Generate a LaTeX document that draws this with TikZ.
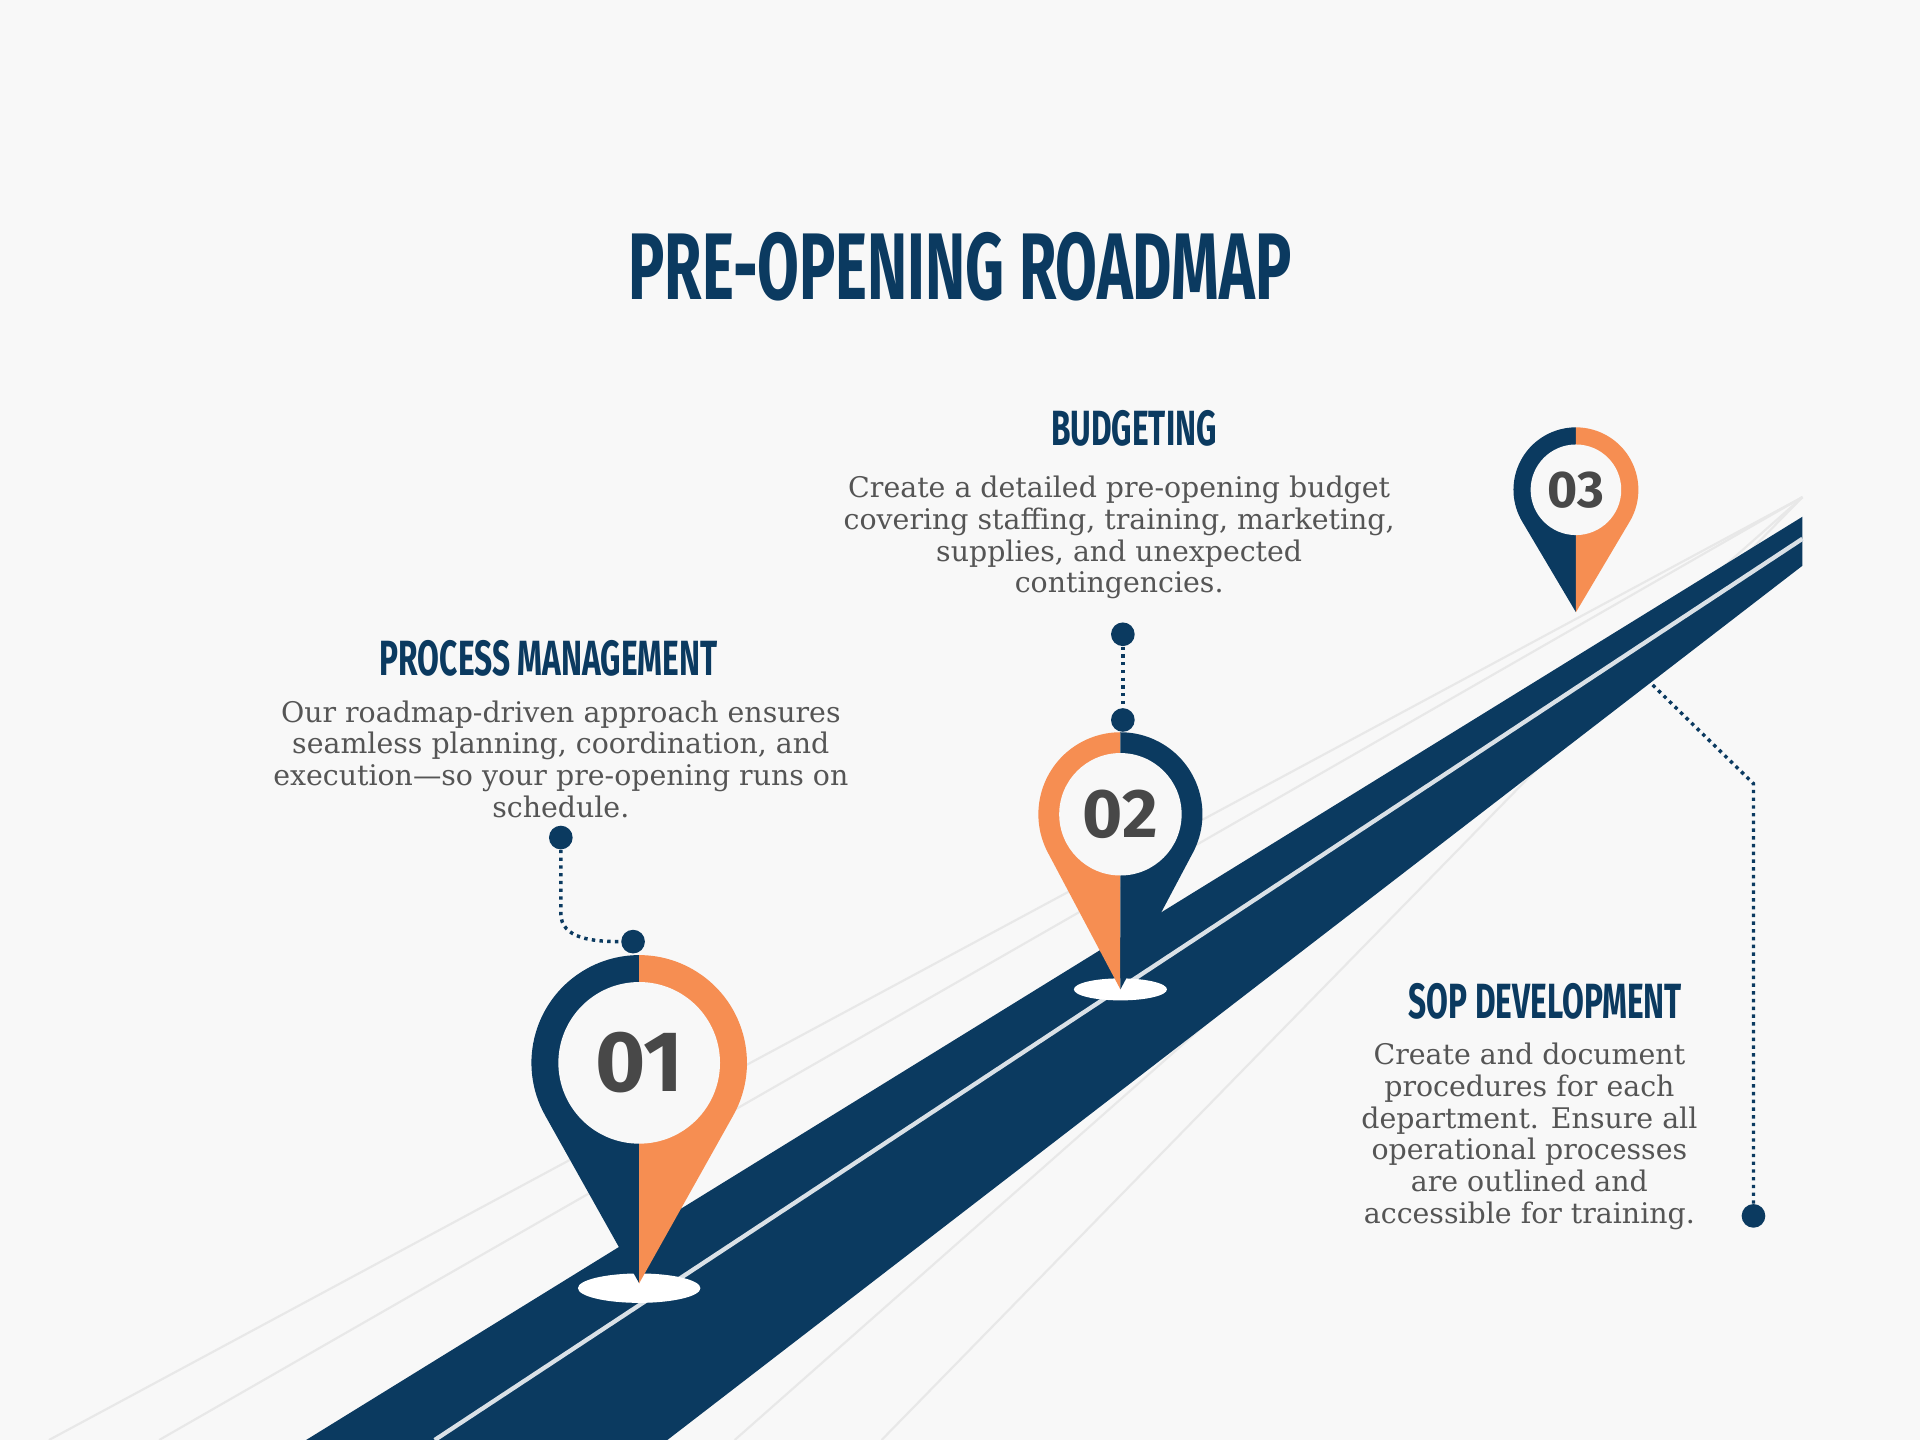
\documentclass[tikz,border=0pt]{standalone}
\usepackage{fontspec}
\setmainfont{DejaVu Serif}
\newfontfamily\headf[FakeStretch=0.64]{Fira Sans Bold}
\newfontfamily\numf{Fira Sans Bold}
\definecolor{navy}{HTML}{0B3A60}
\definecolor{orng}{HTML}{F68E52}
\definecolor{bg}{HTML}{F8F8F8}
\definecolor{txt}{HTML}{555555}
\definecolor{faint}{HTML}{E8E8E8}
\begin{document}
\begin{tikzpicture}[x=0.02cm,y=0.02cm,
  title/.style={font=\headf\fontsize{44}{48}\selectfont,text=navy},
  head/.style={font=\headf\fontsize{23}{26}\selectfont,text=navy},
  body/.style={font=\fontsize{13.2}{14.8}\selectfont,text=txt,align=center},
  dotc/.style={navy,line width=1.6pt,dotted},
  dot/.style={circle,fill=navy,inner sep=0pt,minimum size=11pt},
  faintl/.style={faint,line width=1pt}]
\fill[bg] (0,0) rectangle (1568,1176);
\useasboundingbox (0,0) rectangle (1568,1176);
% perspective lines
\foreach \bx/\by in {40/0,130/0,600/0,720/0}
  \draw[faintl] (1472,770) -- (\bx,\by);
% road
\fill[navy] (250,0) -- (1472,754) -- (1472,714) -- (545,0) -- cycle;
\draw[white!85!navy,line width=2pt] (355,0) -- (1472,736);
% pin macro
\newcommand{\mypin}[9]{%
  \pgfmathsetmacro\ang{acos(#3/#4)}%
  \fill[#6] (#1,#2-#4) -- ([shift={(-90-\ang:#3)}]#1,#2) arc[start angle=-90-\ang,end angle=-270,radius=#3] -- cycle;
  \fill[#7] (#1,#2-#4) -- ([shift={(-90+\ang:#3)}]#1,#2) arc[start angle=-90+\ang,end angle=90,radius=#3] -- cycle;
  \fill[bg] (#1,#2) circle[radius=#5];
  \node[font=\numf\fontsize{#9}{#9}\selectfont,text=txt!85!black] (#8) at (#1,#2) {#8};}
\fill[white] (522,124) ellipse[x radius=50,y radius=12];
\fill[white] (915,368) ellipse[x radius=38,y radius=9];
\mypin{522}{308}{88}{180}{66}{navy}{orng}{01}{40}
\mypin{915}{511}{67}{143}{50}{orng}{navy}{02}{32}
\mypin{1287}{776}{51}{100}{37}{navy}{orng}{03}{24}
% title
\node[title] (t) at (784,958) {PRE-OPENING ROADMAP};
% headings and texts
\node[head] (h1) at (448,638) {PROCESS MANAGEMENT};
\node[body] (b1) at (458,556) {Our roadmap-driven approach ensures\\seamless planning, coordination, and\\execution---so your pre-opening runs on\\schedule.};
\node[head] (h2) at (926,826) {BUDGETING};
\node[body] (b2) at (914,737) {Create a detailed pre-opening budget\\covering staffing, training, marketing,\\supplies, and unexpected\\contingencies.};
\node[head] (h3) at (1262,358) {SOP DEVELOPMENT};
\node[body] (b3) at (1249,248) {Create and document\\procedures for each\\department. Ensure all\\operational processes\\are outlined and\\accessible for training.};
% connectors
\node[dot] (d1a) at (458,492) {};
\node[dot] (d1b) at (517,407) {};
\draw[dotc] (d1a) -- (458,430) to[out=-90,in=180] (d1b);
\node[dot] (d2a) at (917,658) {};
\node[dot] (d2b) at (917,588) {};
\draw[dotc] (d2a) -- (d2b);
\node[dot] (d3a) at (1338,628) {};
\node[dot] (d3b) at (1432,183) {};
\coordinate (c3) at (1432,536);
\draw[dotc] (d3a) -- (c3) -- (d3b);
\end{tikzpicture}
\end{document}
